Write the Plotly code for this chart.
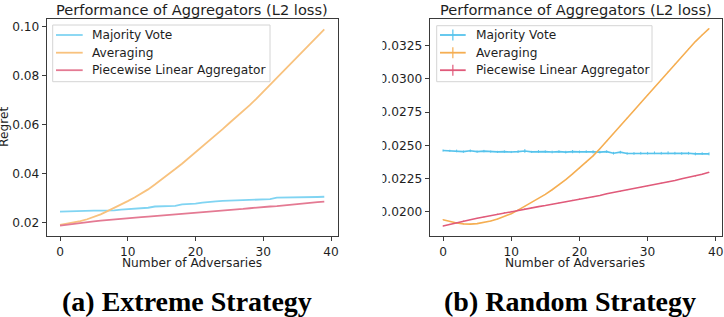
import plotly.graph_objects as go

W, H = 724, 317


def px(x):
    return x / W


def py(y):
    return 1 - y / H


adversaries = list(range(40))

# (a) Extreme Strategy
ext_majority = [0.0245, 0.0246, 0.0249, 0.0249, 0.0249, 0.0249, 0.0249, 0.0249, 0.0250, 0.0253,
                0.0255, 0.0256, 0.0258, 0.0261, 0.0266, 0.0268, 0.0268, 0.0269, 0.0275, 0.0276,
                0.0278, 0.0282, 0.0286, 0.0287, 0.0289, 0.0290, 0.0290, 0.0291, 0.0293, 0.0294,
                0.0294, 0.0296, 0.0302, 0.0302, 0.0302, 0.0302, 0.0303, 0.0303, 0.0305, 0.0306]
ext_averaging = [0.0191, 0.0195, 0.0200, 0.0206, 0.0214, 0.0223, 0.0234, 0.0247, 0.0260, 0.0273,
                 0.0288, 0.0303, 0.0319, 0.0336, 0.0356, 0.0376, 0.0397, 0.0419, 0.0441, 0.0464,
                 0.0488, 0.0511, 0.0535, 0.0558, 0.0582, 0.0607, 0.0631, 0.0655, 0.0680, 0.0707,
                 0.0735, 0.0763, 0.0791, 0.0820, 0.0848, 0.0876, 0.0904, 0.0933, 0.0961, 0.0990]
ext_piecewise = [0.0188, 0.0192, 0.0196, 0.0199, 0.0202, 0.0205, 0.0208, 0.0211, 0.0213, 0.0215,
                 0.0219, 0.0221, 0.0223, 0.0225, 0.0227, 0.0229, 0.0231, 0.0233, 0.0235, 0.0237,
                 0.0240, 0.0243, 0.0245, 0.0247, 0.0249, 0.0251, 0.0253, 0.0256, 0.0259, 0.0262,
                 0.0264, 0.0266, 0.0268, 0.0271, 0.0274, 0.0276, 0.0278, 0.0281, 0.0284, 0.0286]

# (b) Random Strategy
rnd_majority = [0.02460, 0.02458, 0.02457, 0.02452, 0.02458, 0.02452, 0.02456, 0.02452, 0.02450, 0.02452,
                0.02449, 0.02452, 0.02457, 0.02450, 0.02453, 0.02452, 0.02449, 0.02452, 0.02448, 0.02452,
                0.02450, 0.02452, 0.02450, 0.02448, 0.02452, 0.02440, 0.02448, 0.02438, 0.02438, 0.02440,
                0.02440, 0.02443, 0.02440, 0.02443, 0.02440, 0.02438, 0.02440, 0.02435, 0.02437, 0.02435]
rnd_majority_err = [0.00008, 0.00008, 0.00010, 0.00008, 0.00010, 0.00008, 0.00009, 0.00008, 0.00008, 0.00009,
                    0.00008, 0.00010, 0.00014, 0.00008, 0.00010, 0.00009, 0.00010, 0.00010, 0.00010, 0.00012,
                    0.00010, 0.00010, 0.00012, 0.00010, 0.00010, 0.00010, 0.00010, 0.00009, 0.00010, 0.00010,
                    0.00010, 0.00010, 0.00010, 0.00011, 0.00010, 0.00010, 0.00010, 0.00011, 0.00010, 0.00011]
rnd_averaging = [0.01940, 0.01926, 0.01915, 0.01908, 0.01906, 0.01910, 0.01918, 0.01930, 0.01945, 0.01963,
                 0.01985, 0.02012, 0.02040, 0.02068, 0.02098, 0.02130, 0.02165, 0.02202, 0.02242, 0.02284,
                 0.02327, 0.02372, 0.02420, 0.02474, 0.02530, 0.02588, 0.02646, 0.02704, 0.02762, 0.02820,
                 0.02878, 0.02936, 0.02994, 0.03052, 0.03110, 0.03168, 0.03226, 0.03280, 0.03330, 0.03378]
rnd_averaging_err = [0.00003] * 40
rnd_piecewise = [0.01892, 0.01905, 0.01918, 0.01930, 0.01940, 0.01950, 0.01960, 0.01970, 0.01982, 0.01993,
                 0.02003, 0.02012, 0.02022, 0.02030, 0.02038, 0.02046, 0.02055, 0.02066, 0.02075, 0.02086,
                 0.02096, 0.02104, 0.02112, 0.02122, 0.02135, 0.02145, 0.02152, 0.02165, 0.02175, 0.02182,
                 0.02195, 0.02205, 0.02215, 0.02225, 0.02235, 0.02248, 0.02258, 0.02268, 0.02282, 0.02296]
rnd_piecewise_err = [0.00003] * 40

series_names = ["Majority Vote", "Averaging", "Piecewise Linear Aggregator"]
left_colors = ["#80d4f2", "#f8c27e", "#e47a93"]
right_colors = ["#56c3ec", "#f5ae52", "#e05a7a"]

x_ticks = [0, 10, 20, 30, 40]
left_y_ticks = [0.02, 0.04, 0.06, 0.08, 0.10]
left_y_labels = ["0.02", "0.04", "0.06", "0.08", "0.10"]
right_y_ticks = [0.0200, 0.0225, 0.0250, 0.0275, 0.0300, 0.0325]
right_y_labels = ["0.0200", "0.0225", "0.0250", "0.0275", "0.0300", "0.0325"]

TXT = "#1e1e1e"
AX = "#3a3a3a"
FONT = "DejaVu Sans"
FS = 12.2

fig = go.Figure()

for name, vals, col in zip(series_names, [ext_majority, ext_averaging, ext_piecewise], left_colors):
    fig.add_trace(go.Scatter(x=adversaries, y=vals, mode="lines", name=name,
                             line=dict(color=col, width=1.8), xaxis="x", yaxis="y",
                             showlegend=False))

for name, vals, err, col in zip(series_names,
                                [rnd_majority, rnd_averaging, rnd_piecewise],
                                [rnd_majority_err, rnd_averaging_err, rnd_piecewise_err],
                                right_colors):
    fig.add_trace(go.Scatter(x=adversaries, y=vals, mode="lines", name=name,
                             line=dict(color=col, width=1.6), xaxis="x2", yaxis="y2",
                             error_y=dict(type="data", array=err, visible=True,
                                          thickness=1, width=0, color=col),
                             showlegend=False))

axis_common = dict(showline=True, mirror=True, linecolor=AX, linewidth=1,
                   ticks="outside", ticklen=4, tickwidth=1, tickcolor=AX,
                   showgrid=False, zeroline=False,
                   tickfont=dict(family=FONT, size=FS, color=TXT))

fig.update_layout(
    width=W, height=H,
    margin=dict(l=0, r=0, t=0, b=0),
    paper_bgcolor="white", plot_bgcolor="white",
    font=dict(family=FONT, size=FS, color=TXT),
    xaxis=dict(domain=[px(46.8), px(337.5)], range=[-1.95, 40.95], tickvals=x_ticks,
               anchor="y", **axis_common),
    yaxis=dict(domain=[py(236), py(19)], range=[0.01456, 0.1032], tickvals=left_y_ticks,
               ticktext=left_y_labels, anchor="x", **axis_common),
    xaxis2=dict(domain=[px(429.7), px(722.3)], range=[-1.95, 40.95], tickvals=x_ticks,
                anchor="y2", **axis_common),
    yaxis2=dict(domain=[py(236), py(19)], range=[0.01817, 0.0345], tickvals=right_y_ticks,
                ticktext=right_y_labels, anchor="x2", **axis_common),
    showlegend=False,
)

# white strip: the right sub-figure is cropped at its left edge
fig.add_shape(type="rect", xref="paper", yref="paper",
              x0=px(362), x1=px(382.5), y0=py(236), y1=py(17),
              fillcolor="white", line=dict(width=0), layer="above")

# legend boxes (matplotlib style), drawn in paper space
legend_specs = [
    # box x0, x1, y0, y1, sample x0, x1, text x, colors, with error cross
    dict(bx=(52.7, 270), by=(25, 81.7), sx=(56, 82.7), tx=91, colors=left_colors, cross=False),
    dict(bx=(436.7, 652), by=(25.7, 81.7), sx=(440, 465.7), tx=474.5, colors=right_colors, cross=True),
]
row_y = [35, 52.7, 70.2]
for spec in legend_specs:
    fig.add_shape(type="rect", xref="paper", yref="paper",
                  x0=px(spec["bx"][0]), x1=px(spec["bx"][1]),
                  y0=py(spec["by"][1]), y1=py(spec["by"][0]),
                  fillcolor="rgba(255,255,255,0.85)", line=dict(color="#d4d4d4", width=1),
                  layer="above")
    for name, col, ry in zip(series_names, spec["colors"], row_y):
        fig.add_shape(type="line", xref="paper", yref="paper",
                      x0=px(spec["sx"][0]), x1=px(spec["sx"][1]), y0=py(ry), y1=py(ry),
                      line=dict(color=col, width=1.8), layer="above")
        if spec["cross"]:
            cx = (spec["sx"][0] + spec["sx"][1]) / 2
            fig.add_shape(type="line", xref="paper", yref="paper",
                          x0=px(cx), x1=px(cx), y0=py(ry - 5.5), y1=py(ry + 5.5),
                          line=dict(color=col, width=1.2), layer="above")
        fig.add_annotation(text=name, x=px(spec["tx"]), y=py(ry), xref="paper", yref="paper",
                           xanchor="left", yanchor="middle", showarrow=False, borderpad=0,
                           font=dict(family=FONT, size=FS, color=TXT))

annotations = [
    dict(text="Performance of Aggregators (L2 loss)", x=px(192), y=py(9.5), size=14.6),
    dict(text="Performance of Aggregators (L2 loss)", x=px(576), y=py(9.5), size=14.6),
    dict(text="Number of Adversaries", x=px(192), y=py(262.5), size=FS),
    dict(text="Number of Adversaries", x=px(575), y=py(262.5), size=FS),
]
for a in annotations:
    fig.add_annotation(text=a["text"], x=a["x"], y=a["y"], xref="paper", yref="paper",
                       xanchor="center", yanchor="middle", showarrow=False, borderpad=0,
                       font=dict(family=FONT, size=a["size"], color=TXT))

fig.add_annotation(text="Regret", x=px(4), y=py(127), xref="paper", yref="paper",
                   xanchor="center", yanchor="middle", showarrow=False, textangle=-90,
                   font=dict(family=FONT, size=FS, color=TXT))

for cap, cx in [("(a) Extreme Strategy", 186.7), ("(b) Random Strategy", 570)]:
    fig.add_annotation(text="<b>" + cap + "</b>", x=px(cx), y=py(301), xref="paper", yref="paper",
                       xanchor="center", yanchor="middle", showarrow=False,
                       font=dict(family="Liberation Serif", size=28, color="black"))

fig.write_html("out.html", config={"displayModeBar": False},
               post_script="document.body.style.margin='0';document.body.style.overflow='hidden';")
